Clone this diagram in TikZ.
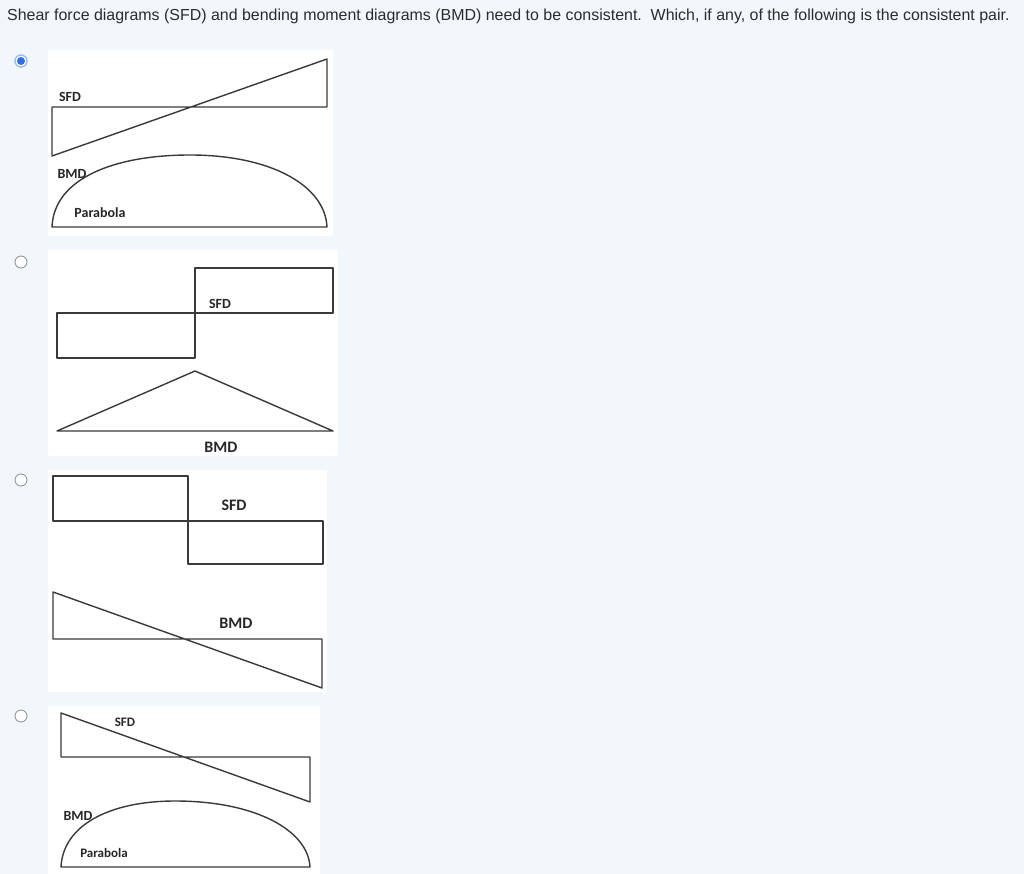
\documentclass[tikz,border=0pt]{standalone}
\usepackage{fontspec}
\setmainfont{Liberation Sans}
\newfontfamily\lblfont{Carlito}
\definecolor{bgc}{HTML}{F1F7FB}
\definecolor{linec}{HTML}{3A3A3A}
\definecolor{radioblue}{HTML}{2F6FE4}
\definecolor{radiogray}{HTML}{8A8A8A}
\definecolor{titlec}{HTML}{2B2B2B}
\tikzset{
  diag/.style={draw=linec, line width=1.4pt, line join=round},
  panel/.style={fill=white, draw=none},
  lbl/.style={font=\lblfont\bfseries\fontsize{#1}{#1}\selectfont, text=black!85, inner sep=0pt},
  lbl/.default=14,
  radiooff/.style={draw=radiogray, fill=white, line width=0.8pt},
}
\begin{document}
\begin{tikzpicture}[x=1pt,y=-1pt]
\useasboundingbox (0,0) rectangle (1024,874);
\fill[bgc] (0,0) rectangle (1024,874);
% title
\node[anchor=base west, inner sep=0pt, text=titlec, font=\fontsize{15.95}{18}\selectfont] (title) at (7,21)
  {Shear force diagrams (SFD) and bending moment diagrams (BMD) need to be consistent.\ \ Which, if any, of the following is the consistent pair.};
% radios
\node[circle, draw=radioblue!45, fill=white, line width=1.5pt, minimum size=12pt, inner sep=0pt] (r1) at (21,61) {};
\fill[radioblue] (r1.center) circle (4pt);
\node[circle, radiooff, minimum size=12pt, inner sep=0pt] (r2) at (21,262) {};
\node[circle, radiooff, minimum size=12pt, inner sep=0pt] (r3) at (21,480) {};
\node[circle, radiooff, minimum size=12pt, inner sep=0pt] (r4) at (21,716) {};
% panels
\fill[panel] (48,50) rectangle (333,236);
\fill[panel] (48,250) rectangle (338,456);
\fill[panel] (48,470) rectangle (327,692);
\fill[panel] (48,706) rectangle (320,874);
% ---------- option 1
\draw[diag] (52,107) -- (327,107) -- (327,59) -- (52,156) -- cycle;
\node[lbl=14] (sfd1) at (70,97) {SFD};
\draw[diag] (52,227) .. controls (54,178) and (115,155) .. (190,155)
  .. controls (270,155) and (325,185) .. (327,227) -- cycle;
\node[lbl=14] (bmd1) at (72,174) {BMD};
\node[lbl=14] (par1) at (100,213) {Parabola};
% ---------- option 2
\draw[diag] (195,313) rectangle (333,268);
\draw[diag] (57,313) rectangle (195,358);
\node[lbl=14] (sfd2) at (220,304) {SFD};
\draw[diag] (57,431) -- (195,371) -- (333,431) -- cycle;
\node[lbl=16] (bmd2) at (221,447) {BMD};
% ---------- option 3
\draw[diag] (53,476) rectangle (188,521);
\draw[diag] (188,521) rectangle (323,564);
\node[lbl=16] (sfd3) at (234,505) {SFD};
\draw[diag] (53,639) -- (322,639) -- (322,688) -- (53,592) -- cycle;
\node[lbl=16] (bmd3) at (236,623) {BMD};
% ---------- option 4
\draw[diag] (61,757) -- (310,757) -- (310,802) -- (61,713) -- cycle;
\node[lbl=13] (sfd4) at (125,722) {SFD};
\draw[diag] (61,867) .. controls (63,825) and (110,801) .. (175,801)
  .. controls (255,801) and (308,830) .. (310,867) -- cycle;
\node[lbl=14] (bmd4) at (78,816) {BMD};
\node[lbl=13] (par4) at (104,853) {Parabola};
\end{tikzpicture}
\end{document}
